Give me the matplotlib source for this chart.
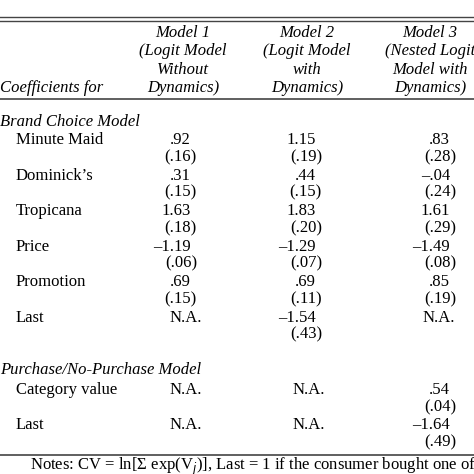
import matplotlib.pyplot as plt

plt.rcParams["font.family"] = ["Liberation Serif", "DejaVu Serif"]

headers = [
    ["Model 1", "(Logit Model", "Without", "Dynamics)"],
    ["Model 2", "(Logit Model", "with", "Dynamics)"],
    ["Model 3", "(Nested Logit", "Model with", "Dynamics)"],
]
brand_rows = ["Minute Maid", "Dominick\u2019s", "Tropicana", "Price", "Promotion", "Last"]
brand_model1 = [(".92", "(.16)"), (".31", "(.15)"), ("1.63", "(.18)"), ("\u20131.19", "(.06)"), (".69", "(.15)"), ("N.A.", None)]
brand_model2 = [("1.15", "(.19)"), (".44", "(.15)"), ("1.83", "(.20)"), ("\u20131.29", "(.07)"), (".69", "(.11)"), ("\u20131.54", "(.43)")]
brand_model3 = [(".83", "(.28)"), ("\u2013.04", "(.24)"), ("1.61", "(.29)"), ("\u20131.49", "(.08)"), (".85", "(.19)"), ("N.A.", None)]
purchase_rows = ["Category value", "Last"]
purchase_model1 = [("N.A.", None), ("N.A.", None)]
purchase_model2 = [("N.A.", None), ("N.A.", None)]
purchase_model3 = [(".54", "(.04)"), ("\u20131.64", "(.49)")]

fig = plt.figure(figsize=(4.74, 4.74), dpi=100)
ax = fig.add_axes([0, 0, 1, 1])
ax.set_xlim(0, 474)
ax.set_ylim(474, 0)
ax.axis("off")

fs = 12
col_center = [183, 307, 430]
col_right = [197, 322, 456]
na_right = [202, 325, 455]

# rules
for y, lw in [(17, 1.0), (21, 1.0), (99, 1.2), (455, 1.2)]:
    ax.axhline(y, color="#444444", lw=lw)

for ci, lines in enumerate(headers):
    for li, t in enumerate(lines):
        ax.text(col_center[ci], 33 + li * 18.3, t, ha="center", va="center", fontsize=fs, style="italic")
ax.text(0, 88, "Coefficients for", ha="left", va="center", fontsize=fs, style="italic")


def draw_cell(col, y, cell):
    value, se = cell
    if value == "N.A.":
        ax.text(na_right[col], y, value, ha="right", va="center", fontsize=fs)
    else:
        ax.text(col_right[col] - 6, y, value, ha="right", va="center", fontsize=fs)
    if se:
        ax.text(col_right[col], y + 17, se, ha="right", va="center", fontsize=fs)


ax.text(0, 122, "Brand Choice Model", ha="left", va="center", fontsize=fs, style="italic")
for i, name in enumerate(brand_rows):
    y = 140 + i * 35.5
    ax.text(16, y, name, ha="left", va="center", fontsize=fs)
    for col, series in enumerate([brand_model1, brand_model2, brand_model3]):
        draw_cell(col, y, series[i])

ax.text(0, 370, "Purchase/No-Purchase Model", ha="left", va="center", fontsize=fs, style="italic")
for i, name in enumerate(purchase_rows):
    y = 390 + i * 35
    ax.text(16, y, name, ha="left", va="center", fontsize=fs)
    for col, series in enumerate([purchase_model1, purchase_model2, purchase_model3]):
        draw_cell(col, y, series[i])

ax.text(30, 467, "Notes: CV = ln[\u03a3 exp(V$_j$)], Last = 1 if the consumer bought one of the",
        ha="left", va="center", fontsize=fs)

fig.savefig("out.png", dpi=100)
